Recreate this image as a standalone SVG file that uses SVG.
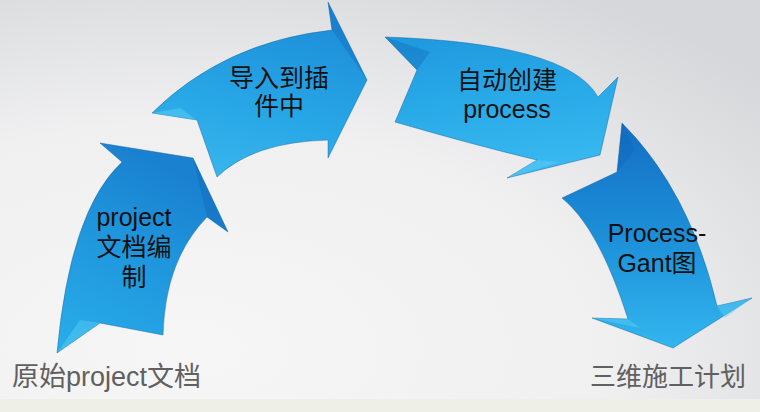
<svg xmlns="http://www.w3.org/2000/svg" width="760" height="412" viewBox="0 0 760 412">
<defs>
<radialGradient id="bg" cx="0.25" cy="0.85" r="1.0">
<stop offset="0" stop-color="#f6f6f6"/>
<stop offset="0.55" stop-color="#f0f0f1"/>
<stop offset="1" stop-color="#d6d7da"/>
</radialGradient>
<linearGradient id="g1" x1="0" y1="1" x2="0.4" y2="0">
<stop offset="0" stop-color="#28aeea"/>
<stop offset="0.6" stop-color="#1f95dc"/>
<stop offset="1" stop-color="#1a80d0"/>
</linearGradient>
<linearGradient id="g2" x1="0" y1="1" x2="0.3" y2="0">
<stop offset="0" stop-color="#3ab8ee"/>
<stop offset="0.5" stop-color="#27a6e6"/>
<stop offset="1" stop-color="#1e90da"/>
</linearGradient>
<linearGradient id="g3" x1="0" y1="0" x2="0.2" y2="1">
<stop offset="0" stop-color="#1f98de"/>
<stop offset="0.5" stop-color="#28a9e8"/>
<stop offset="1" stop-color="#38b8ef"/>
</linearGradient>
<linearGradient id="g4" x1="0" y1="0" x2="0" y2="1">
<stop offset="0" stop-color="#146ec4"/>
<stop offset="0.5" stop-color="#1c8fd8"/>
<stop offset="1" stop-color="#32b6ee"/>
</linearGradient>
<style>
.arrow{stroke:#0d5e9e;stroke-width:0.8;stroke-opacity:0.55;stroke-linejoin:round}
.dark{fill:#0f64b4;opacity:0.35}
.light{fill:#5fd0f7;opacity:0.45}
.lbl{font-family:"Liberation Sans","Noto Sans CJK SC",sans-serif;font-size:25px;fill:#111;text-anchor:middle}
.cap{font-family:"Liberation Sans","Noto Sans CJK SC",sans-serif;fill:#606060}
</style>
</defs>
<rect width="760" height="412" fill="url(#bg)"/>
<rect x="0" y="399" width="760" height="13" fill="#eef0e7"/>

<g id="connectors"/>

<g id="step1">
<path class="arrow" fill="url(#g1)" d="M57,353 L100,323 L163,335 Q165,260 207,217 L228,232 L193,158 L100,143 L122,162 Q70,210 57,353 Z"/>
<polygon class="dark" points="193,158 228,232 207,217"/>
<polygon class="light" points="57,353 100,323 80,320"/>
<text class="lbl" x="134" y="226">project</text>
<text class="lbl" x="134" y="256">文档编</text>
<text class="lbl" x="134" y="286">制</text>
</g>

<g id="step2">
<path class="arrow" fill="url(#g2)" d="M152,113 Q224,42 332,30 L328,2 L367,80 L328,158 L328,140 Q253,142 217,177 L197,120 Z"/>
<polygon class="dark" points="328,2 367,80 332,30"/>
<polygon class="light" points="152,113 197,120 180,108"/>
<text class="lbl" x="279" y="87">导入到插</text>
<text class="lbl" x="279" y="115">件中</text>
</g>

<g id="step3">
<path class="arrow" fill="url(#g3)" d="M385,37 Q568,43 598,97 L618,77 L600,155 L507,178 L537,160 Q474,145 395,122 L417,70 Z"/>
<polygon class="light" points="507,178 537,160 560,162"/>
<polygon class="dark" points="385,37 417,70 430,52"/>
<text class="lbl" x="507" y="89">自动创建</text>
<text class="lbl" x="507" y="118">process</text>
</g>

<g id="step4">
<path class="arrow" fill="url(#g4)" d="M622,123 Q690,191 717,306 L752,298 L673,348 L592,318 L628,319 Q599,228 562,198 L617,172 Z"/>
<polygon class="light" points="592,318 628,319 640,328"/>
<polygon class="light" points="717,306 752,298 725,318"/>
<polygon class="dark" points="622,123 617,172 635,150"/>
<text class="lbl" x="657" y="242">Process-</text>
<text class="lbl" x="657" y="272">Gant图</text>
</g>

<g id="start-label">
<text class="cap" x="12" y="386" font-size="27">原始project文档</text>
</g>
<g id="end-label">
<text class="cap" x="746" y="386" font-size="26" text-anchor="end">三维施工计划</text>
</g>
</svg>
